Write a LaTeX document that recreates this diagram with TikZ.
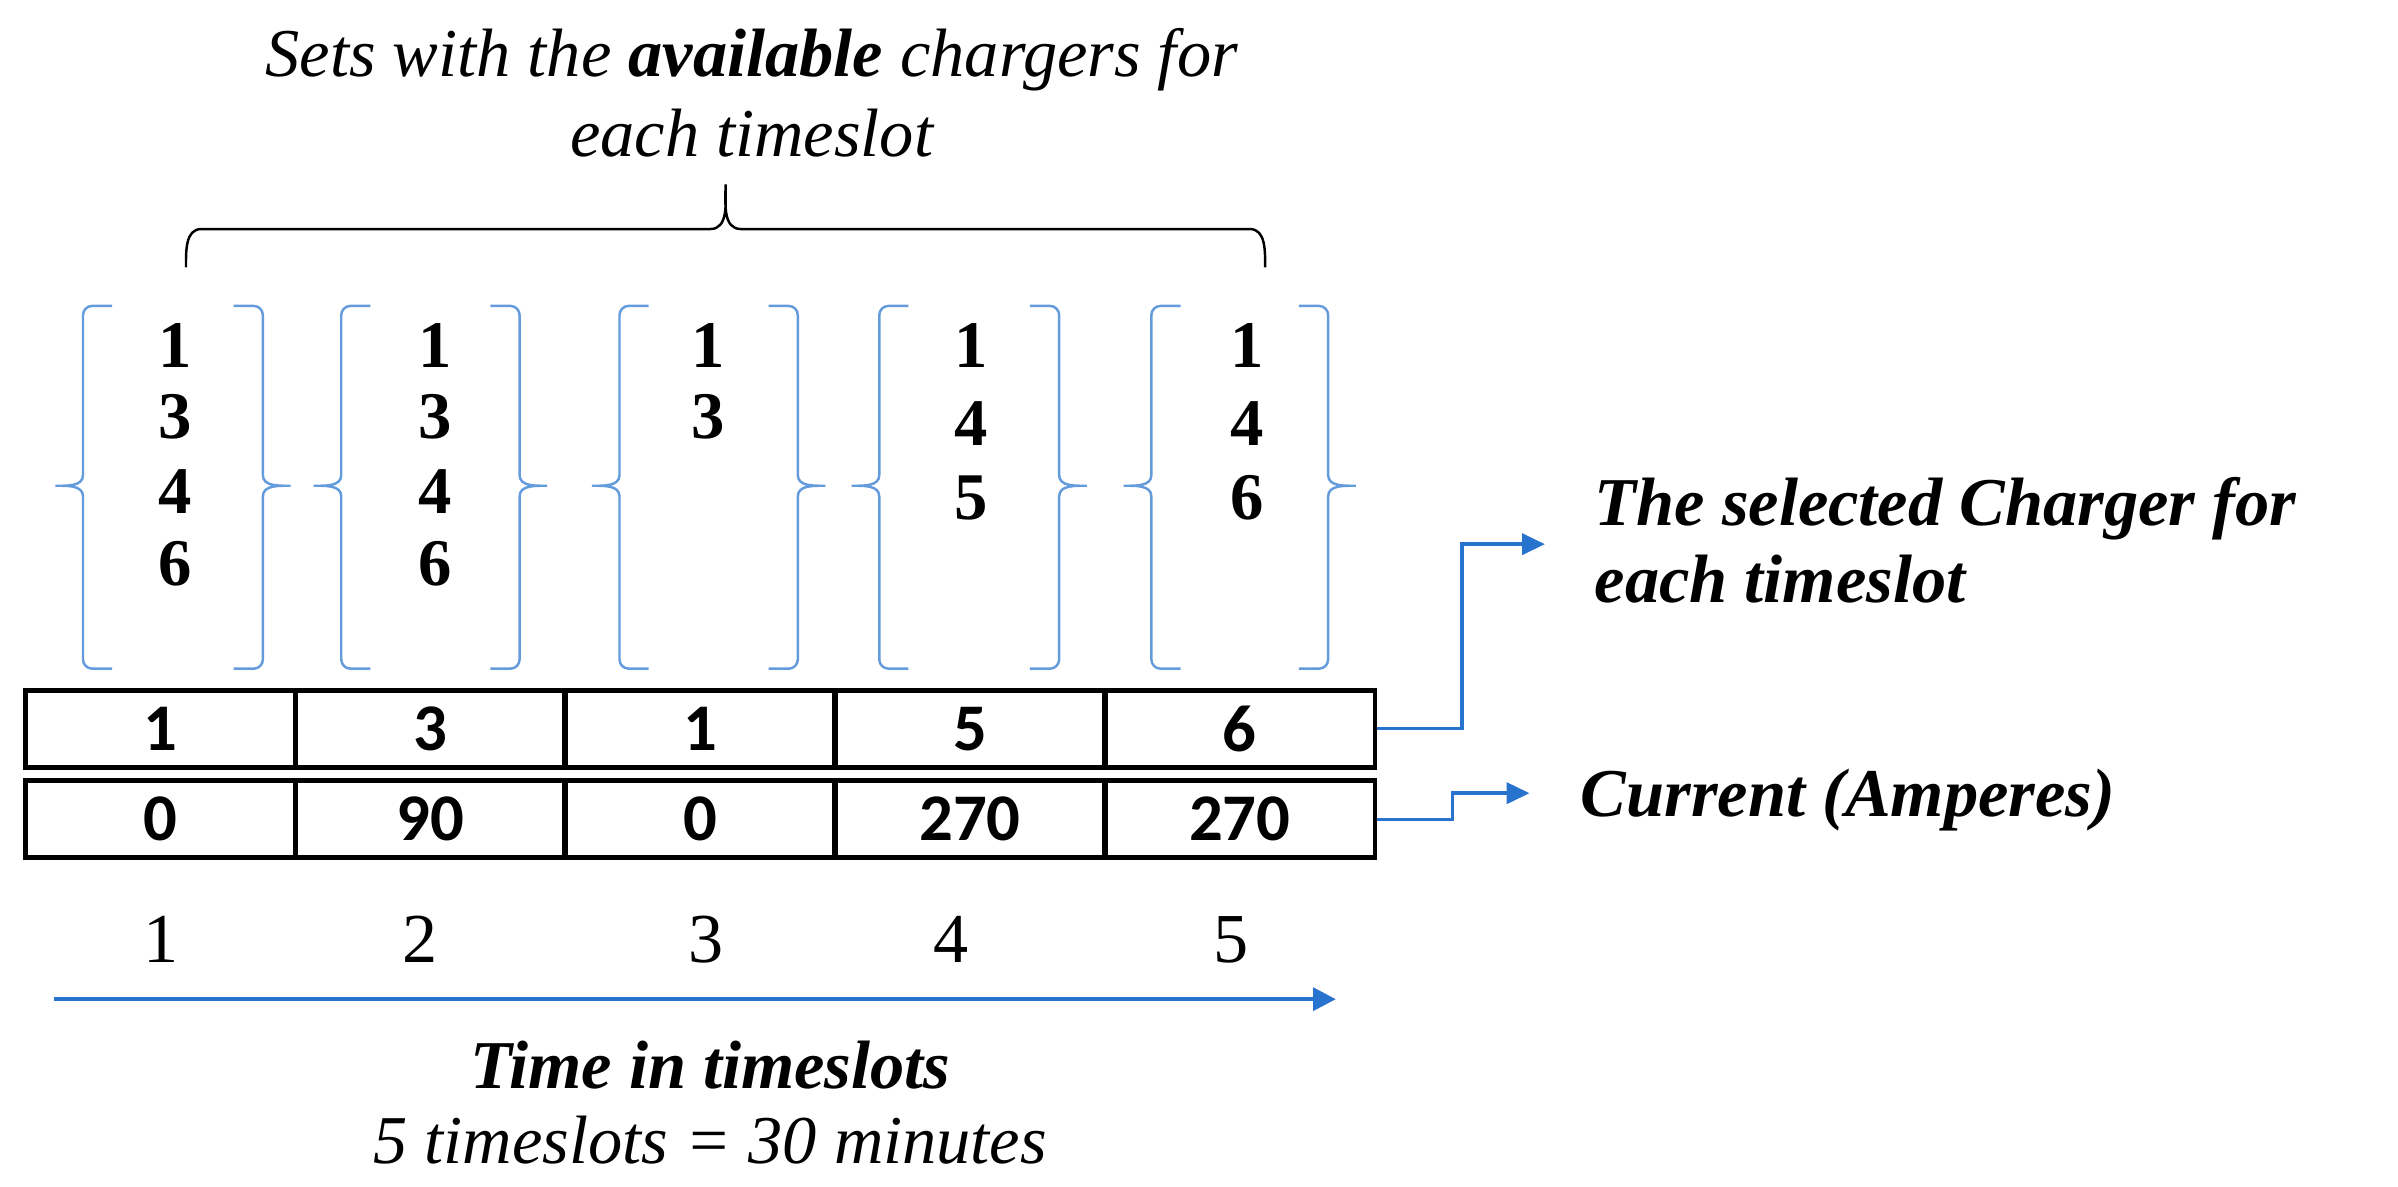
\documentclass[tikz,border=0pt]{standalone}
\usepackage{fontspec}
\setmainfont{Liberation Serif}
\newfontfamily\tabfont{Carlito}
\usetikzlibrary{arrows.meta}
\definecolor{brblue}{RGB}{100,155,220}
\definecolor{arblue}{RGB}{40,115,205}
\begin{document}
\begin{tikzpicture}[x=0.0154cm,y=-0.0154cm,
  brc/.pic={\draw[brblue,line width=0.7pt] (19,199) -- (6,199) to[out=180,in=90] (0,205) -- (0,309) to[out=-90,in=0] (-18,316) to[out=0,in=90] (0,323) -- (0,429) to[out=-90,in=180] (6,435) -- (19,435);},
  dig/.style={font=\fontsize{19}{19}\selectfont\bfseries,anchor=base,inner sep=0pt},
  cell/.style={draw,line width=1.4pt,minimum width={176*0.0154cm},minimum height={50*0.0154cm},inner sep=0pt,font=\tabfont\fontsize{19}{19}\selectfont\bfseries},
  tn/.style={font=\fontsize{20}{20}\selectfont,anchor=base,inner sep=0pt},
  lab/.style={font=\fontsize{19.5}{19.5}\selectfont\bfseries\itshape,inner sep=0pt},
  conn/.style={arblue,line width=1pt,-{Triangle[length=6.5pt,width=6pt]}}]
\useasboundingbox (0,0) rectangle (1560,772);
% title
\node[font=\fontsize{19.5}{19.5}\selectfont\itshape,anchor=base,inner sep=0pt] (t1) at (489,50) {Sets with the \textbf{available} chargers for};
\node[font=\fontsize{19.5}{19.5}\selectfont\itshape,anchor=base,inner sep=0pt] (t2) at (489,102) {each timeslot};
% big brace
\draw[line width=0.7pt] (121,174) to[out=90,in=180] (131,149) -- (462,149) to[out=0,in=-90] (472,120) to[out=-90,in=180] (482,149) -- (813,149) to[out=0,in=90] (823,174);
% blue braces
\foreach \l/\r in {54/171,222/338,403/519,572/689,749/864}{
  \pic at (\l,0) {brc};
  \pic[xscale=-1] at (\r,0) {brc};
}
% set digits
\node[dig] (s11) at (114,239) {1};
\node[dig] (s12) at (114,285) {3};
\node[dig] (s13) at (114,334) {4};
\node[dig] (s14) at (114,381) {6};
\node[dig] (s21) at (283,239) {1};
\node[dig] (s22) at (283,285) {3};
\node[dig] (s23) at (283,334) {4};
\node[dig] (s24) at (283,381) {6};
\node[dig] (s31) at (461,239) {1};
\node[dig] (s32) at (461,285) {3};
\node[dig] (s41) at (632,239) {1};
\node[dig] (s42) at (632,290) {4};
\node[dig] (s43) at (632,338) {5};
\node[dig] (s51) at (811,239) {1};
\node[dig] (s52) at (811,290) {4};
\node[dig] (s53) at (811,338) {6};
% table
\foreach \i/\x/\a/\b in {1/104.5/1/0,2/280/3/90,3/455.5/1/0,4/631/5/270,5/806.5/6/270}{
  \node[cell] (a\i) at (\x,474) {\a};
  \node[cell] (b\i) at (\x,533) {\b};
}
% timeslot numbers
\node[tn] (n1) at (105,626) {1};
\node[tn] (n2) at (273,626) {2};
\node[tn] (n3) at (459,626) {3};
\node[tn] (n4) at (619,626) {4};
\node[tn] (n5) at (801,626) {5};
\coordinate (ts) at (35,650);
\coordinate (te) at (869,650);
\draw[arblue,line width=1.2pt,-{Triangle[length=6.5pt,width=6.5pt]}] (ts) -- (te);
\node[lab,anchor=base] (tl) at (462,708) {Time in timeslots};
\node[font=\fontsize{19.5}{19.5}\selectfont\itshape,anchor=base,inner sep=0pt] (tl2) at (462,757) {5 timeslots = 30 minutes};
% right labels
\node[lab,anchor=base west] (c1) at (1037,342) {The selected Charger for};
\node[lab,anchor=base west] (c2) at (1037,392) {each timeslot};
\node[lab,anchor=base west] (cur) at (1028,531) {Current (Amperes)};
\coordinate (k1) at (1005,354);
\coordinate (k2) at (995,516);
\draw[conn] (a5.east) -| (951,354) -- (k1);
\draw[conn] (b5.east) -| (945,516) -- (k2);
\end{tikzpicture}
\end{document}
